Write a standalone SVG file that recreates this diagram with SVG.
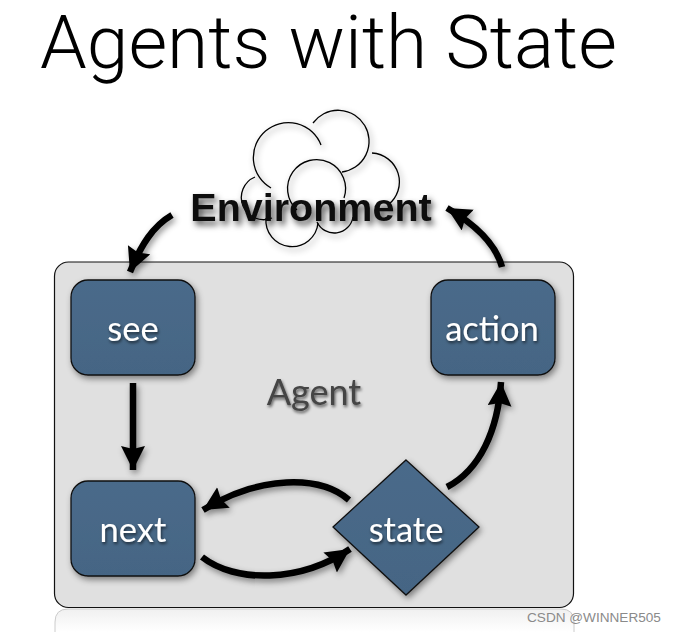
<svg xmlns="http://www.w3.org/2000/svg" width="676" height="632" viewBox="0 0 676 632">
<style>
.node{fill:url(#blue);stroke:#111;stroke-width:1.3;filter:url(#sh)}
.lbl{font-family:"Lato","Open Sans",sans-serif;font-size:34.5px;fill:#fff;text-anchor:middle;filter:url(#tsh)}
.cl{fill:none;stroke:#000;stroke-width:1.3}
.con{fill:none;stroke:#000;stroke-width:6.5}
</style>
<defs>
<linearGradient id="blue" x1="0" y1="0" x2="0" y2="1"><stop offset="0" stop-color="#4a6a8a"/><stop offset="1" stop-color="#456584"/></linearGradient>
<linearGradient id="refl" x1="0" y1="0" x2="0" y2="1"><stop offset="0" stop-color="#f0f0f0"/><stop offset="1" stop-color="#fff"/></linearGradient>
<filter id="sh" x="-20%" y="-20%" width="150%" height="150%"><feDropShadow dx="2" dy="3" stdDeviation="3" flood-color="#000" flood-opacity=".45"/></filter>
<filter id="tsh" x="-20%" y="-30%" width="140%" height="170%"><feDropShadow dx="1" dy="2" stdDeviation="1.5" flood-color="#000" flood-opacity=".6"/></filter>
<filter id="esh" x="-10%" y="-40%" width="125%" height="200%"><feDropShadow dx="3" dy="4" stdDeviation="3" flood-color="#000" flood-opacity=".7"/></filter>
<marker id="ah" markerUnits="userSpaceOnUse" markerWidth="28" markerHeight="28" refX="24" refY="12" orient="auto"><path d="M0 0L24 12L0 24L3 12Z" fill="#000"/></marker>
</defs>
<rect width="676" height="632" fill="#fff"/>
<text x="40" y="68" font-family="Roboto,'Liberation Sans',sans-serif" font-weight="300" font-size="74.9" fill="#000" id="title">Agents with State</text>
<g id="cloud" filter="url(#sh)">
<path class="cl" d="M321 145A35 35 0 1 0 271 188"/>
<path class="cl" d="M313 123A31 31 0 1 1 342 172"/>
<path class="cl" d="M372 153A29 29 0 0 1 388 205"/>
<path class="cl" d="M344 198A29 29 0 1 0 297 210"/>
<path class="cl" d="M255 177A21 21 0 0 0 272 218"/>
<path class="cl" d="M266 218A26 26 0 0 0 318 223"/>
<path class="cl" d="M317 222A19 19 0 0 0 353 217"/>
</g>
<g id="agent">
<path d="M55 632V622Q55 609 68 609H561Q574 609 574 622V632" fill="url(#refl)" stroke="#ccc" stroke-width="1"/>
<rect x="54.500" y="262" width="519" height="345.500" rx="14" fill="#e0e0e0" stroke="#111" stroke-width="1.200"/>
<text x="314" y="405" font-family="Lato,'Open Sans',sans-serif" font-size="36" fill="#444" text-anchor="middle" filter="url(#tsh)">Agent</text>
</g>
<text id="environment" x="311" y="221" font-family="'Liberation Sans',sans-serif" font-weight="700" font-size="39.500" fill="#111" text-anchor="middle" filter="url(#esh)">Environment</text>
<g id="connectors" filter="url(#sh)">
<path class="con" marker-end="url(#ah)" d="M172 215C153 226 141 245 130 272"/>
<path class="con" marker-end="url(#ah)" d="M502 267C496 245 478 226 447 208"/>
<path class="con" marker-end="url(#ah)" d="M133 383V470"/>
<path class="con" marker-end="url(#ah)" d="M447 487C480 470 498 430 501 382"/>
<path class="con" marker-end="url(#ah)" d="M349 500C320 475 260 475 203 510"/>
<path class="con" marker-end="url(#ah)" d="M202 557C235 583 300 583 350 549"/>
</g>
<g id="see"><rect class="node" x="71" y="280" width="124" height="95" rx="17"/><text class="lbl" x="133" y="341">see</text></g>
<g id="action"><rect class="node" x="431" y="280" width="124" height="95" rx="17"/><text class="lbl" x="492" y="341">action</text></g>
<g id="next"><rect class="node" x="71" y="481" width="124" height="95" rx="17"/><text class="lbl" x="133" y="542">next</text></g>
<g id="state"><path class="node" d="M406 460L479 527L406 595L333 527Z"/><text class="lbl" x="406" y="542">state</text></g>
<text id="watermark" x="527" y="622" font-family="'Liberation Sans',sans-serif" font-size="13.600" fill="#8a8a8a">CSDN @WINNER505</text>
</svg>
